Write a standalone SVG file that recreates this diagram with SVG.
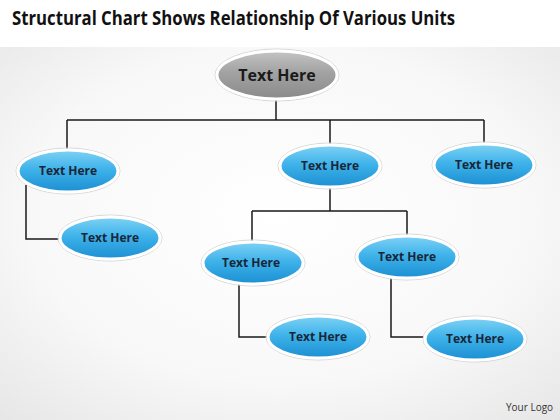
<svg xmlns="http://www.w3.org/2000/svg" width="560" height="420" viewBox="0 0 560 420">
<defs>
<radialGradient id="bg" cx="0.5" cy="0.45" r="0.75">
<stop offset="0" stop-color="#ffffff"/>
<stop offset="0.6" stop-color="#f8f8f8"/>
<stop offset="1" stop-color="#e6e6e6"/>
</radialGradient>
<linearGradient id="blue" x1="0" y1="0" x2="0" y2="1">
<stop offset="0" stop-color="#7fd2f4"/>
<stop offset="0.45" stop-color="#3fb3ea"/>
<stop offset="1" stop-color="#1b8fd2"/>
</linearGradient>
<linearGradient id="gray" x1="0" y1="0" x2="0" y2="1">
<stop offset="0" stop-color="#c4c4c4"/>
<stop offset="0.45" stop-color="#a2a2a2"/>
<stop offset="1" stop-color="#8a8a8a"/>
</linearGradient>
</defs>
<style>
.title{font-family:"Open Sans","Liberation Sans",sans-serif;font-weight:bold;font-size:19px;fill:#111}
.lbl{font-family:"Open Sans","Liberation Sans",sans-serif;font-weight:bold;font-size:12px;fill:#1a2638;text-anchor:middle}
.big{font-size:16px;fill:#1a1a1a}
.node ellipse.o{fill:none;stroke:#d6d6d6;stroke-width:1}
.blue ellipse.f{fill:url(#blue);stroke:#ffffff;stroke-width:3}
.grey ellipse.f{fill:url(#gray);stroke:#ffffff;stroke-width:3}
.conn{fill:none;stroke:#1a1a1a;stroke-width:1.5}
.logo{font-family:"Open Sans","Liberation Sans",sans-serif;font-size:10px;fill:#333}
</style>
<rect x="0" y="0" width="560" height="420" fill="#ffffff"/>
<rect x="0" y="47" width="560" height="373" fill="url(#bg)"/>
<text class="title" x="12" y="25" textLength="443" lengthAdjust="spacingAndGlyphs">Structural Chart Shows Relationship Of Various Units</text>
<g id="connectors" class="conn">
<path d="M276 100 V120 M67 120 H484 M67 120 V150 M330 120 V146 M484 120 V145"/>
<path d="M26 185 V239 H60"/>
<path d="M330 187 V211 M252 211 H407 M252 211 V241 M407 211 V236"/>
<path d="M239 284 V337 H268"/>
<path d="M391 278 V337 H426"/>
</g>
<g id="n0" class="node grey"><ellipse class="o" cx="277" cy="75" rx="62" ry="26"/><ellipse class="f" cx="277" cy="75" rx="60" ry="24"/><text class="lbl big" x="277" y="81">Text Here</text></g>
<g id="n1" class="node blue"><ellipse class="o" cx="68" cy="171" rx="52" ry="23"/><ellipse class="f" cx="68" cy="171" rx="50" ry="21"/><text class="lbl" x="68" y="175">Text Here</text></g>
<g id="n2" class="node blue"><ellipse class="o" cx="110" cy="238" rx="52" ry="23"/><ellipse class="f" cx="110" cy="238" rx="50" ry="21"/><text class="lbl" x="110" y="242">Text Here</text></g>
<g id="n3" class="node blue"><ellipse class="o" cx="330" cy="166" rx="52" ry="23"/><ellipse class="f" cx="330" cy="166" rx="50" ry="21"/><text class="lbl" x="330" y="170">Text Here</text></g>
<g id="n4" class="node blue"><ellipse class="o" cx="484" cy="165" rx="52" ry="23"/><ellipse class="f" cx="484" cy="165" rx="50" ry="21"/><text class="lbl" x="484" y="169">Text Here</text></g>
<g id="n5" class="node blue"><ellipse class="o" cx="253" cy="263" rx="52" ry="23"/><ellipse class="f" cx="253" cy="263" rx="50" ry="21"/><text class="lbl" x="251" y="267">Text Here</text></g>
<g id="n6" class="node blue"><ellipse class="o" cx="407" cy="257" rx="52" ry="23"/><ellipse class="f" cx="407" cy="257" rx="50" ry="21"/><text class="lbl" x="407" y="261">Text Here</text></g>
<g id="n7" class="node blue"><ellipse class="o" cx="318" cy="337" rx="52" ry="23"/><ellipse class="f" cx="318" cy="337" rx="50" ry="21"/><text class="lbl" x="318" y="341">Text Here</text></g>
<g id="n8" class="node blue"><ellipse class="o" cx="475" cy="339" rx="52" ry="23"/><ellipse class="f" cx="475" cy="339" rx="50" ry="21"/><text class="lbl" x="475" y="343">Text Here</text></g>
<text class="logo" x="506" y="411">Your Logo</text>
</svg>
